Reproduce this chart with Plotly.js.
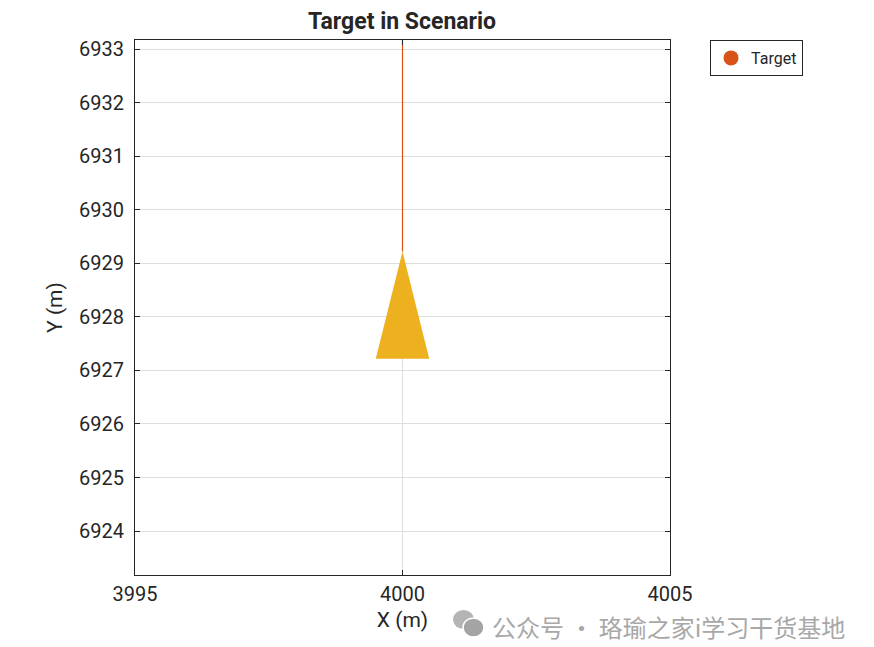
<!DOCTYPE html>
<html><head><meta charset="utf-8">
<script src="https://cdn.plot.ly/plotly-3.0.1.min.js"></script>
<style>body{margin:0;background:#fff}#c{width:874px;height:647px}</style>
</head><body><div id="c"></div>
<script>
// Data
const triangleX = [3999.5, 4000.0, 4000.5, 3999.5];
const triangleY = [6927.22, 6929.22, 6927.22, 6927.22];
const trackX = [4000, 4000];
const trackY = [6929.22, 6934];
const xTicks = [3995, 4000, 4005];
const yTicks = [6924, 6925, 6926, 6927, 6928, 6929, 6930, 6931, 6932, 6933];
const seriesName = 'Target';
const watermark = '公众号 · 珞瑜之家i学习干货基地';

const traces = [
  {x: trackX, y: trackY, mode: 'lines', line: {color: '#D95319', width: 1.2}, showlegend: false, hoverinfo: 'skip'},
  {x: triangleX, y: triangleY, mode: 'lines', fill: 'toself', fillcolor: '#EDB120', line: {color: '#EDB120', width: 0}, showlegend: false},
  {x: [null], y: [null], mode: 'markers', name: seriesName, marker: {color: '#D95319', size: 15, symbol: 'circle'}, showlegend: true}
];

const F = 'Roboto, Liberation Sans, Arial, sans-serif';
const axFont = {family: F, size: 20, color: '#262626'};
const layout = {
  width: 874, height: 647,
  margin: {l: 135, r: 204, t: 40, b: 72},
  paper_bgcolor: '#fff', plot_bgcolor: '#fff',
  title: {text: '<b>Target in Scenario</b>', x: 0.46, xanchor: 'center', y: 0.967, yanchor: 'middle',
          font: {family: F, size: 23, color: '#262626'}},
  xaxis: {range: [3995, 4005], tickvals: xTicks, ticktext: xTicks.map(String), tickfont: axFont,
          showgrid: true, gridcolor: '#dedede', gridwidth: 1, zeroline: false,
          showline: true, linecolor: '#262626', linewidth: 1, mirror: 'ticks',
          ticks: 'inside', ticklen: 5, tickcolor: '#262626', ticklabelstandoff: 1,
          title: {text: 'X (m)', font: {family: F, size: 21, color: '#262626'}, standoff: 7}},
  yaxis: {range: [6923.18, 6933.17], tickvals: yTicks, ticktext: yTicks.map(String), tickfont: axFont,
          showgrid: true, gridcolor: '#dedede', gridwidth: 1, zeroline: false,
          showline: true, linecolor: '#262626', linewidth: 1, mirror: 'ticks',
          ticks: 'inside', ticklen: 5, tickcolor: '#262626', ticklabelstandoff: 6,
          title: {text: 'Y (m)', font: {family: F, size: 21, color: '#262626'}, standoff: 10}},
  legend: {x: 1.0748, y: 1.0, xanchor: 'left', yanchor: 'top', bgcolor: '#fff', bordercolor: '#262626', borderwidth: 1,
           font: {family: F, size: 16, color: '#262626'}, itemwidth: 30, tracegroupgap: 0},
  annotations: [
    {text: watermark, xref: 'paper', yref: 'paper', x: (490-135)/535, y: -(626-575)/535, xanchor: 'left', yanchor: 'middle',
     showarrow: false, font: {family: 'Noto Sans CJK SC, sans-serif', size: 24, color: '#a8a8a8'}}
  ],
  shapes: [
    {type: 'circle', xref: 'paper', yref: 'paper', x0: (453-135)/535, x1: (474-135)/535, y0: -(629-575)/535, y1: -(610-575)/535, fillcolor: '#b4b4b4', line: {width: 0}},
    {type: 'circle', xref: 'paper', yref: 'paper', x0: (463-135)/535, x1: (484-135)/535, y0: -(637-575)/535, y1: -(618-575)/535, fillcolor: '#a4a4a4', line: {color: '#fff', width: 1.5}}
  ]
};
Plotly.newPlot('c', traces, layout, {displayModeBar: false});
</script></body></html>
